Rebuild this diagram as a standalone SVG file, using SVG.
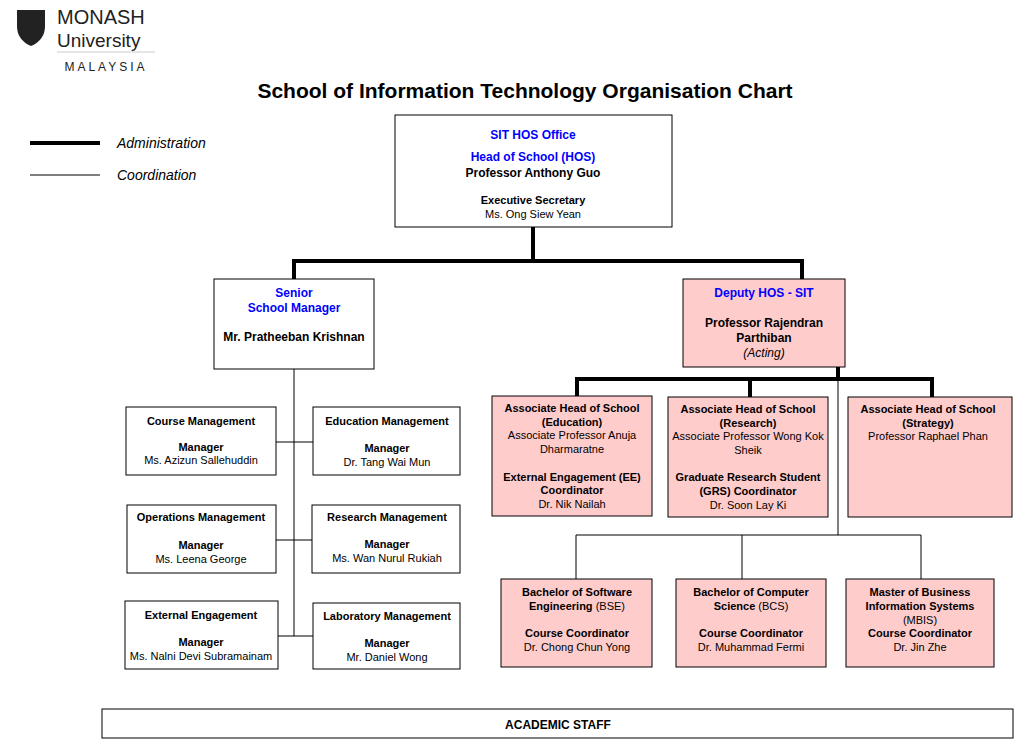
<svg xmlns="http://www.w3.org/2000/svg" width="1025" height="749" viewBox="0 0 1025 749">
<style>
text{font-family:"Liberation Sans Narrow","Liberation Sans",Arial,sans-serif;font-size:11px;text-anchor:middle;fill:#000}
.b{font-weight:bold}
.bl{fill:#0000ff;font-weight:bold;font-size:12px}
.box{fill:#fff;stroke:#000;stroke-width:1}
.pk{fill:#ffcccc;stroke:#000;stroke-width:1}
.thick{stroke:#000;stroke-width:4;fill:none}
.thin{stroke:#000;stroke-width:1;fill:none}
</style>
<rect width="1025" height="749" fill="#fff"/>
<g id="logo">
<path d="M17 10 h28 v16 q0 14 -14 20 q-14 -6 -14 -20z" fill="#222"/>
<text x="57" y="24" style="font-family:'Liberation Sans',sans-serif;font-size:20px;text-anchor:start;fill:#222">MONASH</text>
<text x="57" y="47" style="font-family:'Liberation Sans',sans-serif;font-size:19px;text-anchor:start;fill:#222">University</text>
<line x1="57" y1="52" x2="155" y2="52" stroke="#ccc"/>
<text x="106" y="71" style="font-family:'Liberation Sans',sans-serif;font-size:12px;letter-spacing:3px;fill:#222">MALAYSIA</text>
</g>
<text x="525" y="98" style="font-family:'Liberation Sans',sans-serif;font-size:21px;font-weight:bold">School of Information Technology Organisation Chart</text>
<g id="legend">
<line x1="30" y1="143" x2="100" y2="143" class="thick"/>
<line x1="30" y1="175" x2="100" y2="175" class="thin"/>
<text x="117" y="148" style="font-family:'Liberation Sans',sans-serif;font-size:14px;font-style:italic;text-anchor:start">Administration</text>
<text x="117" y="180" style="font-family:'Liberation Sans',sans-serif;font-size:14px;font-style:italic;text-anchor:start">Coordination</text>
</g>
<g id="connectors">
<polyline class="thick" points="533,227 533,261"/>
<polyline class="thick" points="294,279 294,261 802,261 802,279"/>
<polyline class="thick" points="838,367 838,379"/>
<polyline class="thick" points="577,396 577,379 932,379 932,397"/>
<line class="thick" x1="750" y1="379" x2="750" y2="397"/>
<polyline class="thin" points="838,379 838,535"/>
<polyline class="thin" points="576,579 576,535 921,535 921,579"/>
<line class="thin" x1="742" y1="535" x2="742" y2="579"/>
<line class="thin" x1="294" y1="369" x2="294" y2="636"/>
<line class="thin" x1="276" y1="442" x2="313" y2="442"/>
<line class="thin" x1="276" y1="540" x2="312" y2="540"/>
<line class="thin" x1="278" y1="636" x2="313" y2="636"/>
</g>
<g id="hos"><rect class="box" x="395" y="115" width="277" height="112"/>
<text x="533" y="139" class="bl">SIT HOS Office</text>
<text x="533" y="161" class="bl">Head of School (HOS)</text>
<text x="533" y="177" class="b" style="font-size:12px">Professor Anthony Guo</text>
<text x="533" y="204" class="b">Executive Secretary</text>
<text x="533" y="218">Ms. Ong Siew Yean</text></g>
<g id="ssm"><rect class="box" x="214" y="279" width="160" height="90"/>
<text x="294" y="297" class="bl">Senior</text>
<text x="294" y="312" class="bl">School Manager</text>
<text x="294" y="341" class="b" style="font-size:12px">Mr. Pratheeban Krishnan</text></g>
<g id="dhos"><rect class="pk" x="683" y="279" width="162" height="88"/>
<text x="764" y="297" class="bl">Deputy HOS - SIT</text>
<text x="764" y="327" class="b" style="font-size:12px">Professor Rajendran</text>
<text x="764" y="342" class="b" style="font-size:12px">Parthiban</text>
<text x="764" y="357" style="font-style:italic;font-size:12px">(Acting)</text></g>
<g id="cm"><rect class="box" x="126" y="407" width="150" height="68"/>
<text x="201" y="425" class="b">Course Management</text><text x="201" y="451" class="b">Manager</text><text x="201" y="464">Ms. Azizun Sallehuddin</text></g>
<g id="om"><rect class="box" x="127" y="505" width="149" height="68"/>
<text x="201" y="521" class="b">Operations Management</text><text x="201" y="549" class="b">Manager</text><text x="201" y="563">Ms. Leena George</text></g>
<g id="ee"><rect class="box" x="125" y="601" width="153" height="68"/>
<text x="201" y="619" class="b">External Engagement</text><text x="201" y="646" class="b">Manager</text><text x="201" y="660">Ms. Nalni Devi Subramainam</text></g>
<g id="em"><rect class="box" x="313" y="407" width="147" height="68"/>
<text x="387" y="425" class="b">Education Management</text><text x="387" y="452" class="b">Manager</text><text x="387" y="466">Dr. Tang Wai Mun</text></g>
<g id="rm"><rect class="box" x="312" y="505" width="148" height="68"/>
<text x="387" y="521" class="b">Research Management</text><text x="387" y="548" class="b">Manager</text><text x="387" y="562">Ms. Wan Nurul Rukiah</text></g>
<g id="lm"><rect class="box" x="313" y="603" width="147" height="66"/>
<text x="387" y="620" class="b">Laboratory Management</text><text x="387" y="647" class="b">Manager</text><text x="387" y="661">Mr. Daniel Wong</text></g>
<g id="ahe"><rect class="pk" x="492" y="396" width="160" height="120"/>
<text x="572" y="412" class="b">Associate Head of School</text><text x="572" y="426" class="b">(Education)</text>
<text x="572" y="439">Associate Professor Anuja</text><text x="572" y="453">Dharmaratne</text>
<text x="572" y="481" class="b">External Engagement (EE)</text><text x="572" y="494" class="b">Coordinator</text><text x="572" y="508">Dr. Nik Nailah</text></g>
<g id="ahr"><rect class="pk" x="668" y="397" width="160" height="120"/>
<text x="748" y="413" class="b">Associate Head of School</text><text x="748" y="427" class="b">(Research)</text>
<text x="748" y="440">Associate Professor Wong Kok</text><text x="748" y="454">Sheik</text>
<text x="748" y="481" class="b">Graduate Research Student</text><text x="748" y="495" class="b">(GRS) Coordinator</text><text x="748" y="509">Dr. Soon Lay Ki</text></g>
<g id="ahs"><rect class="pk" x="848" y="397" width="164" height="120"/>
<text x="928" y="413" class="b">Associate Head of School</text><text x="928" y="427" class="b">(Strategy)</text>
<text x="928" y="440">Professor Raphael Phan</text></g>
<g id="bse"><rect class="pk" x="501" y="579" width="151" height="88"/>
<text x="577" y="596" class="b">Bachelor of Software</text><text x="577" y="610"><tspan class="b">Engineering</tspan> (BSE)</text>
<text x="577" y="637" class="b">Course Coordinator</text><text x="577" y="651">Dr. Chong Chun Yong</text></g>
<g id="bcs"><rect class="pk" x="676" y="579" width="150" height="88"/>
<text x="751" y="596" class="b">Bachelor of Computer</text><text x="751" y="610"><tspan class="b">Science</tspan> (BCS)</text>
<text x="751" y="637" class="b">Course Coordinator</text><text x="751" y="651">Dr. Muhammad Fermi</text></g>
<g id="mbis"><rect class="pk" x="846" y="579" width="148" height="88"/>
<text x="920" y="596" class="b">Master of Business</text><text x="920" y="610" class="b">Information Systems</text>
<text x="920" y="624">(MBIS)</text>
<text x="920" y="637" class="b">Course Coordinator</text><text x="920" y="651">Dr. Jin Zhe</text></g>
<g id="staff"><rect class="box" x="102" y="709" width="911" height="29"/>
<text x="558" y="729" class="b" style="font-family:'Liberation Sans',sans-serif;font-size:12px">ACADEMIC STAFF</text></g>
</svg>
